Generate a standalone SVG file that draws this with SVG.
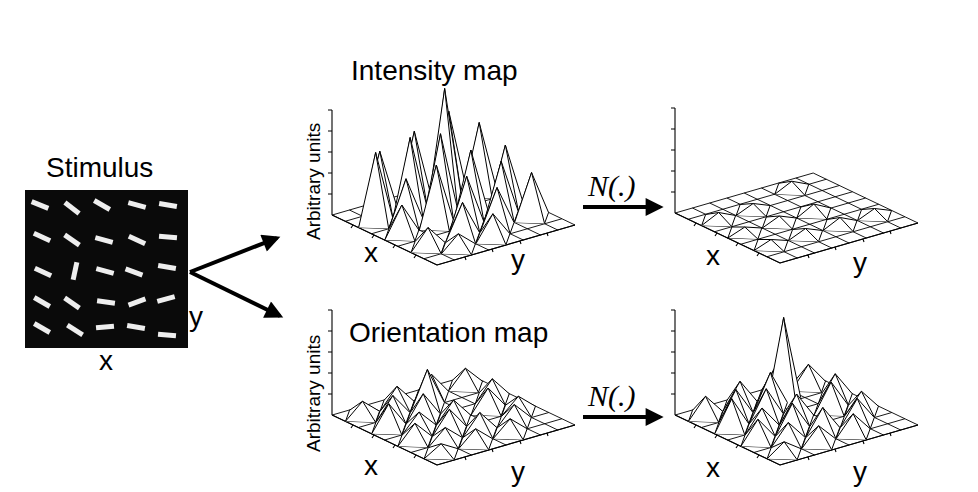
<svg xmlns="http://www.w3.org/2000/svg" width="978" height="492" viewBox="0 0 978 492" xmlns:xlink="http://www.w3.org/1999/xlink">
<style>
text{font-family:"Liberation Sans",Arial,sans-serif;fill:#000}
.t{font-size:28px}
.ti{font-size:28px}
.ax{font-size:19px}
.m{fill:#fff;stroke:#000;stroke-width:1;stroke-linejoin:round}
.g{fill:none;stroke:#000;stroke-width:0.9}
.a{fill:none;stroke:#000;stroke-width:1.1}
.bar{fill:#eee}
.arr{stroke:#000;stroke-width:4;fill:none}
.n{font-family:"Liberation Serif",serif;font-style:italic;font-size:30px}
</style>
<defs>
<marker id="ah" viewBox="0 0 10 10" refX="8" refY="5" markerWidth="6" markerHeight="4.5" orient="auto"><path d="M0,0 L10,5 L0,10 z" fill="#000"/></marker>
<path id="grid" d="M0,0 L0,8 M1,0 L1,8 M2,0 L2,8 M3,0 L3,8 M4,0 L4,8 M5,0 L5,8 M6,0 L6,8 M7,0 L7,8 M8,0 L8,8 M0,0 L8,0 M0,1 L8,1 M0,2 L8,2 M0,3 L8,3 M0,4 L8,4 M0,5 L8,5 M0,6 L8,6 M0,7 L8,7 M0,8 L8,8" transform="matrix(-13.1 -6.25 17.25 -5 0 0)" vector-effect="non-scaling-stroke"/>
<g id="axes">
<path class="a" d="M-105,-50 L0,0 L138,-40 M-105,-50 L-105,-155 M-105,-155 h-4 M-105,-134 h-4 M-105,-113 h-4 M-105,-92 h-4 M-105,-71 h-4 M-84,-40 l-2,3 M-63,-30 l-2,3 M-42,-20 l-2,3 M-21,-10 l-2,3 M28,-8 l1,3 M55,-16 l1,3 M83,-24 l1,3 M110,-32 l1,3"/>
</g>
</defs>

<g id="stimulus">
<text class="ti" x="46" y="177">Stimulus</text>
<rect x="25" y="190" width="163" height="158" fill="#0a0a0a"/>
<g class="bar">
<rect x="-9" y="-2.5" width="18" height="5" transform="translate(40,205) rotate(22)"/>
<rect x="-9" y="-2.5" width="18" height="5" transform="translate(72,208) rotate(38)"/>
<rect x="-9" y="-2.5" width="18" height="5" transform="translate(102,205) rotate(30)"/>
<rect x="-9" y="-2.5" width="18" height="5" transform="translate(137,205) rotate(15)"/>
<rect x="-9" y="-2.5" width="18" height="5" transform="translate(168,205) rotate(10)"/>
<rect x="-9" y="-2.5" width="18" height="5" transform="translate(42,237) rotate(25)"/>
<rect x="-9" y="-2.5" width="18" height="5" transform="translate(72,240) rotate(35)"/>
<rect x="-9" y="-2.5" width="18" height="5" transform="translate(104,240) rotate(15)"/>
<rect x="-9" y="-2.5" width="18" height="5" transform="translate(137,240) rotate(25)"/>
<rect x="-9" y="-2.5" width="18" height="5" transform="translate(168,237) rotate(5)"/>
<rect x="-9" y="-2.5" width="18" height="5" transform="translate(43,272) rotate(25)"/>
<rect x="-9" y="-2.5" width="18" height="5" transform="translate(75,271) rotate(-78)"/>
<rect x="-9" y="-2.5" width="18" height="5" transform="translate(105,271) rotate(15)"/>
<rect x="-9" y="-2.5" width="18" height="5" transform="translate(134,272) rotate(20)"/>
<rect x="-9" y="-2.5" width="18" height="5" transform="translate(167,267) rotate(10)"/>
<rect x="-9" y="-2.5" width="18" height="5" transform="translate(42,302) rotate(30)"/>
<rect x="-9" y="-2.5" width="18" height="5" transform="translate(72,303) rotate(35)"/>
<rect x="-9" y="-2.5" width="18" height="5" transform="translate(106,302) rotate(8)"/>
<rect x="-9" y="-2.5" width="18" height="5" transform="translate(137,302) rotate(-20)"/>
<rect x="-9" y="-2.5" width="18" height="5" transform="translate(166,299) rotate(-15)"/>
<rect x="-9" y="-2.5" width="18" height="5" transform="translate(42,328) rotate(30)"/>
<rect x="-9" y="-2.5" width="18" height="5" transform="translate(75,330) rotate(32)"/>
<rect x="-9" y="-2.5" width="18" height="5" transform="translate(105,327) rotate(-5)"/>
<rect x="-9" y="-2.5" width="18" height="5" transform="translate(136,327) rotate(10)"/>
<rect x="-9" y="-2.5" width="18" height="5" transform="translate(167,335) rotate(5)"/>
</g>
<text class="t" x="99" y="370">x</text>
<text class="t" x="189" y="326">y</text>
</g>

<g id="connectors">
<path class="arr" d="M190,272 L277,238" marker-end="url(#ah)"/>
<path class="arr" d="M190,272 L280,316" marker-end="url(#ah)"/>
<path class="arr" d="M583,207 L660,207" marker-end="url(#ah)"/>
<path class="arr" d="M583,417 L660,417" marker-end="url(#ah)"/>
<text class="n" x="588" y="196">N(.)</text>
<text class="n" x="588" y="406">N(.)</text>
</g>

<g id="intensity-map">
<text class="t" x="351" y="80">Intensity map</text>
<text class="ax" transform="translate(320,240) rotate(-90)">Arbitrary units</text>
<g transform="translate(437,265)">
<use xlink:href="#axes"/>
<use xlink:href="#grid" class="g"/>
<g class="m">
<g transform="translate(11.8,-73.75)"><polygon points="-13,-6 0,-80 17,-5 13,6 -17,5"/><path d="M13,6 L0,-80 L-17,5"/></g>
<g transform="translate(42.2,-72.5)"><polygon points="-13,-6 0,-70 17,-5 13,6 -17,5"/><path d="M13,6 L0,-70 L-17,5"/></g>
<g transform="translate(-22.7,-63.75)"><polygon points="-13,-6 0,-70 17,-5 13,6 -17,5"/><path d="M13,6 L0,-70 L-17,5"/></g>
<g transform="translate(7.65,-62.5)"><polygon points="-13,-6 0,-114 17,-5 13,6 -17,5"/><path d="M13,6 L0,-114 L-17,5"/></g>
<g transform="translate(68.35,-60)"><polygon points="-13,-6 0,-60 17,-5 13,6 -17,5"/><path d="M13,6 L0,-60 L-17,5"/></g>
<g transform="translate(-57.2,-53.75)"><polygon points="-13,-6 0,-60 17,-5 13,6 -17,5"/><path d="M13,6 L0,-60 L-17,5"/></g>
<g transform="translate(-26.85,-52.5)"><polygon points="-13,-6 0,-75 17,-5 13,6 -17,5"/><path d="M13,6 L0,-75 L-17,5"/></g>
<g transform="translate(3.5,-51.25)"><polygon points="-13,-6 0,-80 17,-5 13,6 -17,5"/><path d="M13,6 L0,-80 L-17,5"/></g>
<g transform="translate(33.85,-50)"><polygon points="-13,-6 0,-65 17,-5 13,6 -17,5"/><path d="M13,6 L0,-65 L-17,5"/></g>
<g transform="translate(64.2,-48.75)"><polygon points="-13,-6 0,-55 17,-5 13,6 -17,5"/><path d="M13,6 L0,-55 L-17,5"/></g>
<g transform="translate(94.55,-47.5)"><polygon points="-13,-6 0,-45 17,-5 13,6 -17,5"/><path d="M13,6 L0,-45 L-17,5"/></g>
<g transform="translate(-61.35,-42.5)"><polygon points="-13,-6 0,-70 17,-5 13,6 -17,5"/><path d="M13,6 L0,-70 L-17,5"/></g>
<g transform="translate(-31,-41.25)"><polygon points="-13,-6 0,-45 17,-5 13,6 -17,5"/><path d="M13,6 L0,-45 L-17,5"/></g>
<g transform="translate(-0.65,-40)"><polygon points="-13,-6 0,-60 17,-5 13,6 -17,5"/><path d="M13,6 L0,-60 L-17,5"/></g>
<g transform="translate(29.7,-38.75)"><polygon points="-13,-6 0,-50 17,-5 13,6 -17,5"/><path d="M13,6 L0,-50 L-17,5"/></g>
<g transform="translate(60.05,-37.5)"><polygon points="-13,-6 0,-40 17,-5 13,6 -17,5"/><path d="M13,6 L0,-40 L-17,5"/></g>
<g transform="translate(-35.15,-30)"><polygon points="-13,-6 0,-30 17,-5 13,6 -17,5"/><path d="M13,6 L0,-30 L-17,5"/></g>
<g transform="translate(25.55,-27.5)"><polygon points="-13,-6 0,-35 17,-5 13,6 -17,5"/><path d="M13,6 L0,-35 L-17,5"/></g>
<g transform="translate(55.9,-26.25)"><polygon points="-13,-6 0,-25 17,-5 13,6 -17,5"/><path d="M13,6 L0,-25 L-17,5"/></g>
<g transform="translate(-8.95,-17.5)"><polygon points="-13,-6 0,-20 17,-5 13,6 -17,5"/><path d="M13,6 L0,-20 L-17,5"/></g>
<g transform="translate(21.4,-16.25)"><polygon points="-13,-6 0,-15 17,-5 13,6 -17,5"/><path d="M13,6 L0,-15 L-17,5"/></g>
</g>
</g>
<text class="t" x="364" y="262">x</text>
<text class="t" x="511" y="269">y</text>
</g>

<g id="normalized-intensity">
<g transform="translate(780,263)">
<use xlink:href="#axes"/>
<use xlink:href="#grid" class="g"/>
<g class="m">
<g transform="translate(11.8,-73.75)"><polygon points="-13,-6 0,-8 17,-5 13,6 -17,5"/><path d="M13,6 L0,-8 L-17,5"/></g>
<g transform="translate(-26.85,-52.5)"><polygon points="-13,-6 0,-7 17,-5 13,6 -17,5"/><path d="M13,6 L0,-7 L-17,5"/></g>
<g transform="translate(33.85,-50)"><polygon points="-13,-6 0,-9 17,-5 13,6 -17,5"/><path d="M13,6 L0,-9 L-17,5"/></g>
<g transform="translate(94.55,-47.5)"><polygon points="-13,-6 0,-7 17,-5 13,6 -17,5"/><path d="M13,6 L0,-7 L-17,5"/></g>
<g transform="translate(-61.35,-42.5)"><polygon points="-13,-6 0,-8 17,-5 13,6 -17,5"/><path d="M13,6 L0,-8 L-17,5"/></g>
<g transform="translate(-0.65,-40)"><polygon points="-13,-6 0,-7 17,-5 13,6 -17,5"/><path d="M13,6 L0,-7 L-17,5"/></g>
<g transform="translate(60.05,-37.5)"><polygon points="-13,-6 0,-8 17,-5 13,6 -17,5"/><path d="M13,6 L0,-8 L-17,5"/></g>
<g transform="translate(-35.15,-30)"><polygon points="-13,-6 0,-6 17,-5 13,6 -17,5"/><path d="M13,6 L0,-6 L-17,5"/></g>
<g transform="translate(25.55,-27.5)"><polygon points="-13,-6 0,-7 17,-5 13,6 -17,5"/><path d="M13,6 L0,-7 L-17,5"/></g>
<g transform="translate(-8.95,-17.5)"><polygon points="-13,-6 0,-6 17,-5 13,6 -17,5"/><path d="M13,6 L0,-6 L-17,5"/></g>
</g>
</g>
<text class="t" x="706" y="265">x</text>
<text class="t" x="853" y="272">y</text>
</g>

<g id="orientation-map">
<text class="t" x="349" y="342">Orientation map</text>
<text class="ax" transform="translate(320,452) rotate(-90)">Arbitrary units</text>
<g transform="translate(437,465)">
<use xlink:href="#axes"/>
<use xlink:href="#grid" class="g"/>
<g class="m">
<g transform="translate(28.45,-78.75)"><polygon points="-13,-6 0,-18 17,-5 13,6 -17,5"/><path d="M13,6 L0,-18 L-17,5"/></g>
<g transform="translate(-5.45,-68.75)"><polygon points="-13,-6 0,-22 17,-5 13,6 -17,5"/><path d="M13,6 L0,-22 L-17,5"/></g>
<g transform="translate(55.25,-66.25)"><polygon points="-13,-6 0,-20 17,-5 13,6 -17,5"/><path d="M13,6 L0,-20 L-17,5"/></g>
<g transform="translate(-39.95,-58.75)"><polygon points="-13,-6 0,-20 17,-5 13,6 -17,5"/><path d="M13,6 L0,-20 L-17,5"/></g>
<g transform="translate(-9.6,-57.5)"><polygon points="-13,-6 0,-38 17,-5 13,6 -17,5"/><path d="M13,6 L0,-38 L-17,5"/></g>
<g transform="translate(51.1,-55)"><polygon points="-13,-6 0,-22 17,-5 13,6 -17,5"/><path d="M13,6 L0,-22 L-17,5"/></g>
<g transform="translate(81.45,-53.75)"><polygon points="-13,-6 0,-15 17,-5 13,6 -17,5"/><path d="M13,6 L0,-15 L-17,5"/></g>
<g transform="translate(-74.45,-48.75)"><polygon points="-13,-6 0,-15 17,-5 13,6 -17,5"/><path d="M13,6 L0,-15 L-17,5"/></g>
<g transform="translate(-44.1,-47.5)"><polygon points="-13,-6 0,-22 17,-5 13,6 -17,5"/><path d="M13,6 L0,-22 L-17,5"/></g>
<g transform="translate(-13.75,-46.25)"><polygon points="-13,-6 0,-25 17,-5 13,6 -17,5"/><path d="M13,6 L0,-25 L-17,5"/></g>
<g transform="translate(16.6,-45)"><polygon points="-13,-6 0,-20 17,-5 13,6 -17,5"/><path d="M13,6 L0,-20 L-17,5"/></g>
<g transform="translate(77.3,-42.5)"><polygon points="-13,-6 0,-18 17,-5 13,6 -17,5"/><path d="M13,6 L0,-18 L-17,5"/></g>
<g transform="translate(-48.25,-36.25)"><polygon points="-13,-6 0,-25 17,-5 13,6 -17,5"/><path d="M13,6 L0,-25 L-17,5"/></g>
<g transform="translate(-17.9,-35)"><polygon points="-13,-6 0,-18 17,-5 13,6 -17,5"/><path d="M13,6 L0,-18 L-17,5"/></g>
<g transform="translate(12.45,-33.75)"><polygon points="-13,-6 0,-22 17,-5 13,6 -17,5"/><path d="M13,6 L0,-22 L-17,5"/></g>
<g transform="translate(42.8,-32.5)"><polygon points="-13,-6 0,-20 17,-5 13,6 -17,5"/><path d="M13,6 L0,-20 L-17,5"/></g>
<g transform="translate(73.15,-31.25)"><polygon points="-13,-6 0,-15 17,-5 13,6 -17,5"/><path d="M13,6 L0,-15 L-17,5"/></g>
<g transform="translate(-22.05,-23.75)"><polygon points="-13,-6 0,-18 17,-5 13,6 -17,5"/><path d="M13,6 L0,-18 L-17,5"/></g>
<g transform="translate(8.3,-22.5)"><polygon points="-13,-6 0,-15 17,-5 13,6 -17,5"/><path d="M13,6 L0,-15 L-17,5"/></g>
<g transform="translate(38.65,-21.25)"><polygon points="-13,-6 0,-15 17,-5 13,6 -17,5"/><path d="M13,6 L0,-15 L-17,5"/></g>
<g transform="translate(4.15,-11.25)"><polygon points="-13,-6 0,-10 17,-5 13,6 -17,5"/><path d="M13,6 L0,-10 L-17,5"/></g>
</g>
</g>
<text class="t" x="364" y="475">x</text>
<text class="t" x="511" y="481">y</text>
</g>

<g id="normalized-orientation">
<g transform="translate(780,465)">
<use xlink:href="#axes"/>
<use xlink:href="#grid" class="g"/>
<g class="m">
<g transform="translate(28.45,-78.75)"><polygon points="-13,-6 0,-22 17,-5 13,6 -17,5"/><path d="M13,6 L0,-22 L-17,5"/></g>
<g transform="translate(-5.45,-68.75)"><polygon points="-13,-6 0,-28 17,-5 13,6 -17,5"/><path d="M13,6 L0,-28 L-17,5"/></g>
<g transform="translate(55.25,-66.25)"><polygon points="-13,-6 0,-25 17,-5 13,6 -17,5"/><path d="M13,6 L0,-25 L-17,5"/></g>
<g transform="translate(3.65,-62.5)"><polygon points="-13,-6 0,-85 17,-5 13,6 -17,5"/><path d="M13,6 L0,-85 L-17,5"/></g>
<g transform="translate(-39.95,-58.75)"><polygon points="-13,-6 0,-25 17,-5 13,6 -17,5"/><path d="M13,6 L0,-25 L-17,5"/></g>
<g transform="translate(-9.6,-57.5)"><polygon points="-13,-6 0,-35 17,-5 13,6 -17,5"/><path d="M13,6 L0,-35 L-17,5"/></g>
<g transform="translate(51.1,-55)"><polygon points="-13,-6 0,-28 17,-5 13,6 -17,5"/><path d="M13,6 L0,-28 L-17,5"/></g>
<g transform="translate(81.45,-53.75)"><polygon points="-13,-6 0,-20 17,-5 13,6 -17,5"/><path d="M13,6 L0,-20 L-17,5"/></g>
<g transform="translate(-74.45,-48.75)"><polygon points="-13,-6 0,-20 17,-5 13,6 -17,5"/><path d="M13,6 L0,-20 L-17,5"/></g>
<g transform="translate(-44.1,-47.5)"><polygon points="-13,-6 0,-28 17,-5 13,6 -17,5"/><path d="M13,6 L0,-28 L-17,5"/></g>
<g transform="translate(-13.75,-46.25)"><polygon points="-13,-6 0,-30 17,-5 13,6 -17,5"/><path d="M13,6 L0,-30 L-17,5"/></g>
<g transform="translate(16.6,-45)"><polygon points="-13,-6 0,-26 17,-5 13,6 -17,5"/><path d="M13,6 L0,-26 L-17,5"/></g>
<g transform="translate(77.3,-42.5)"><polygon points="-13,-6 0,-24 17,-5 13,6 -17,5"/><path d="M13,6 L0,-24 L-17,5"/></g>
<g transform="translate(-48.25,-36.25)"><polygon points="-13,-6 0,-30 17,-5 13,6 -17,5"/><path d="M13,6 L0,-30 L-17,5"/></g>
<g transform="translate(-17.9,-35)"><polygon points="-13,-6 0,-22 17,-5 13,6 -17,5"/><path d="M13,6 L0,-22 L-17,5"/></g>
<g transform="translate(12.45,-33.75)"><polygon points="-13,-6 0,-28 17,-5 13,6 -17,5"/><path d="M13,6 L0,-28 L-17,5"/></g>
<g transform="translate(42.8,-32.5)"><polygon points="-13,-6 0,-25 17,-5 13,6 -17,5"/><path d="M13,6 L0,-25 L-17,5"/></g>
<g transform="translate(73.15,-31.25)"><polygon points="-13,-6 0,-20 17,-5 13,6 -17,5"/><path d="M13,6 L0,-20 L-17,5"/></g>
<g transform="translate(-22.05,-23.75)"><polygon points="-13,-6 0,-22 17,-5 13,6 -17,5"/><path d="M13,6 L0,-22 L-17,5"/></g>
<g transform="translate(8.3,-22.5)"><polygon points="-13,-6 0,-20 17,-5 13,6 -17,5"/><path d="M13,6 L0,-20 L-17,5"/></g>
<g transform="translate(38.65,-21.25)"><polygon points="-13,-6 0,-18 17,-5 13,6 -17,5"/><path d="M13,6 L0,-18 L-17,5"/></g>
<g transform="translate(4.15,-11.25)"><polygon points="-13,-6 0,-12 17,-5 13,6 -17,5"/><path d="M13,6 L0,-12 L-17,5"/></g>
</g>
</g>
<text class="t" x="706" y="477">x</text>
<text class="t" x="853" y="481">y</text>
</g>
</svg>
